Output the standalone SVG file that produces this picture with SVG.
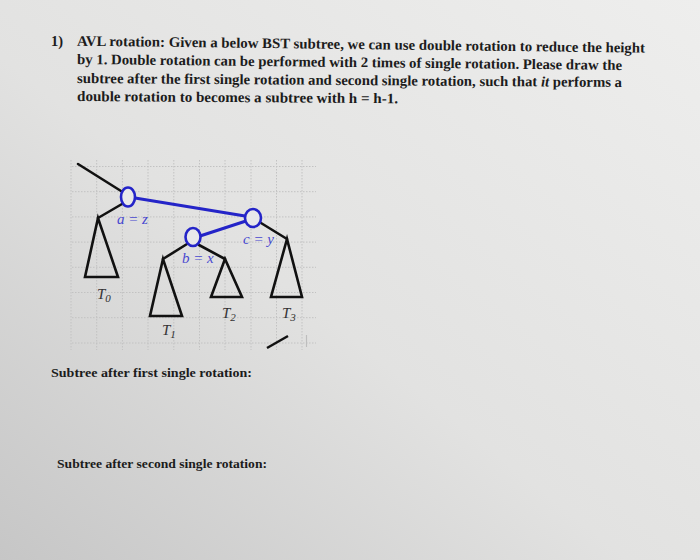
<svg xmlns="http://www.w3.org/2000/svg" width="700" height="560" viewBox="0 0 700 560">
<defs>
  <linearGradient id="paper" x1="1" y1="0" x2="0" y2="1">
    <stop offset="0" stop-color="#eeeeed"/>
    <stop offset="0.55" stop-color="#e2e2e1"/>
    <stop offset="1" stop-color="#c6c6c6"/>
  </linearGradient>
  <pattern id="dots" width="4" height="4" patternUnits="userSpaceOnUse">
    <rect width="4" height="4" fill="#d8d8d8"/>
    <circle cx="1" cy="1" r="0.7" fill="#6a6a6a"/>
    <circle cx="3" cy="3" r="0.6" fill="#888"/>
  </pattern>
  <style>
    .hdr{font-family:"Liberation Serif","Times New Roman",serif;font-weight:bold;font-size:14.5px;fill:#1c1c1c}
    .sub{font-family:"Liberation Serif","Times New Roman",serif;font-weight:bold;font-size:13px;fill:#1c1c1c}
    .grid{stroke:#c2c2c2;stroke-width:1;stroke-dasharray:1.5 1.5;fill:none}
    .edge{stroke:#111;stroke-width:2.6;fill:none;stroke-linecap:round}
    .bedge{stroke:#2424c8;stroke-width:3;fill:none;stroke-linecap:round}
    .node{stroke:#2424c8;stroke-width:2.6;fill:#e8e8ea}
    .lbl{font-family:"Liberation Serif","Times New Roman",serif;font-style:italic;font-size:15px;fill:#4848d0}
    .tri{stroke:#111;stroke-width:2.6;fill:none;stroke-linejoin:miter}
    .tl{font-family:"Liberation Serif","Times New Roman",serif;font-style:italic;font-size:15px;fill:#333}
  </style>
</defs>
<rect width="700" height="560" fill="url(#paper)"/>

<!-- header -->
<text class="hdr" x="51" y="45.5">1)</text>
<text class="hdr" x="77" y="45.7" textLength="568" lengthAdjust="spacingAndGlyphs" transform="rotate(0.7 77 45.7)">AVL rotation: Given a below BST subtree, we can use double rotation to reduce the height</text>
<text class="hdr" x="77" y="64" textLength="545" lengthAdjust="spacingAndGlyphs" transform="rotate(0.63 77 64)">by 1. Double rotation can be performed with 2 times of single rotation. Please draw the</text>
<text class="hdr" x="77" y="83" textLength="545" lengthAdjust="spacingAndGlyphs" transform="rotate(0.42 77 83)">subtree after the first single rotation and second single rotation, such that <tspan font-style="italic">it</tspan> performs a</text>
<text class="hdr" x="77" y="101" textLength="321" lengthAdjust="spacingAndGlyphs" transform="rotate(0.4 77 101)">double rotation to becomes a subtree with h = h-1.</text>

<!-- grid -->
<g id="grid">
  <path class="grid" d="M71 160V350M96.7 160V350M122.4 160V350M148 160V350M173.8 160V350M199.5 160V350M225 160V350M251 160V350M276.5 160V350M302 160V350"/>
  <path class="grid" d="M72 166.5H316M72 191.7H316M72 216.9H316M72 242.1H316M72 267.3H316M72 292.5H316M72 317.7H316M72 343H316"/>
</g>

<!-- connectors -->
<g id="connectors">
  <line class="edge" x1="78" y1="164" x2="121" y2="191"/>
  <line class="edge" x1="122" y1="204" x2="98" y2="218"/>
  <line class="edge" x1="187" y1="244" x2="163" y2="259"/>
  <line class="edge" x1="199" y1="245" x2="225" y2="259"/>
  <line class="edge" x1="261" y1="223" x2="287" y2="239"/>
  <line class="bedge" x1="135" y1="198" x2="245" y2="216"/>
  <line class="bedge" x1="200" y1="236" x2="246" y2="221"/>
</g>

<!-- internal nodes -->
<g id="node-a">
  <ellipse class="node" cx="128" cy="197" rx="7" ry="9.5"/>
  <text class="lbl" x="117" y="224">a = z</text>
</g>
<g id="node-c">
  <ellipse class="node" cx="253" cy="218" rx="8" ry="9"/>
  <text class="lbl" x="243" y="244">c = y</text>
</g>
<g id="node-b">
  <ellipse class="node" cx="193" cy="237" rx="7.5" ry="9"/>
  <text class="lbl" x="182" y="263">b = x</text>
</g>

<!-- subtrees -->
<g id="T0">
  <polygon class="tri" points="98,218 85,277 118,277"/>
  <text class="tl" x="97" y="299">T<tspan font-size="11" dy="3">0</tspan></text>
</g>
<g id="T1">
  <polygon class="tri" points="163,259 150,316 182,316" fill="url(#dots)"/>
  <text class="tl" x="162" y="335">T<tspan font-size="11" dy="3">1</tspan></text>
</g>
<g id="T2">
  <polygon class="tri" points="225,259 211,297 242,297"/>
  <text class="tl" x="222" y="318">T<tspan font-size="11" dy="3">2</tspan></text>
</g>
<g id="T3">
  <polygon class="tri" points="287,239 271,297 302,297"/>
  <text class="tl" x="282" y="318">T<tspan font-size="11" dy="3">3</tspan></text>
</g>

<!-- stray marks -->
<line x1="267" y1="348" x2="288" y2="336" stroke="#111" stroke-width="2.4"/>
<line x1="306.5" y1="335" x2="306.5" y2="347" stroke="#bdbdbd" stroke-width="1.2"/>

<!-- prompts -->
<text class="sub" x="51" y="377" textLength="201" lengthAdjust="spacingAndGlyphs">Subtree after first single rotation:</text>
<text class="sub" x="57" y="468" textLength="210" lengthAdjust="spacingAndGlyphs">Subtree after second single rotation:</text>
</svg>
